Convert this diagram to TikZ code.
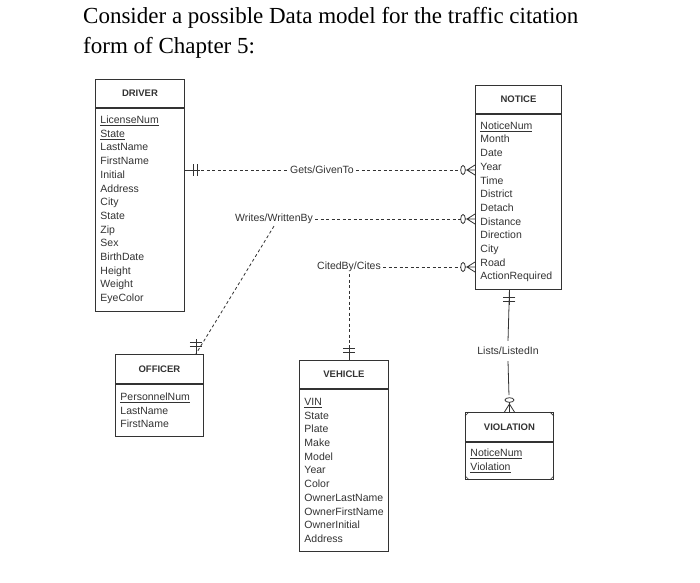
\documentclass[tikz,border=0pt]{standalone}
\usepackage{fontspec}
\setmainfont{Liberation Serif}
\newfontfamily\erfont{Liberation Sans}
\usetikzlibrary{positioning}

\definecolor{ink}{HTML}{333333}

\tikzset{
  ent/.style={draw=ink, line width=0.9pt, minimum width=#1, minimum height=28, inner sep=0pt,
    font=\erfont\bfseries\fontsize{9.5}{11}\selectfont, text=ink},
  attr/.style={draw=ink, line width=0.9pt, text width=#1, align=left, inner xsep=5pt, inner ysep=0pt,
    font=\erfont\fontsize{10.5}{13.7}\selectfont, text=ink},
  rel/.style={draw=ink, line width=0.8pt, dash pattern=on 3pt off 2.5pt},
  lbl/.style={font=\erfont\fontsize{10.5}{12}\selectfont, text=ink, inner sep=2pt},
  mustone/.pic={\draw[ink, line width=0.8pt] (0,0) -- (15,0) (8,-6) -- (8,6) (12,-6) -- (12,6);},
  zeromany/.pic={\draw[ink, line width=0.8pt] (-12,0) ellipse [x radius=2.3pt, y radius=4.5pt]
    (-9.7,0) -- (0,0) (-8,0) -- (0,5) (-8,0) -- (0,-5);}
}

\begin{document}
\begin{tikzpicture}[x=1pt, y=-1pt]
\path[use as bounding box, fill=white] (0,0) rectangle (700,582);

\node[anchor=north west, align=left, inner sep=0pt, font=\fontsize{23}{30}\selectfont] (title) at (83,7)
  {Consider a possible Data model for the traffic citation\\form of Chapter 5:};

\node[ent=89, anchor=north west] (driver) at (95,79) {DRIVER};
\node[attr=79, minimum height=203, below=0pt of driver] (driverA)
  {\underline{LicenseNum}\\\underline{State}\\LastName\\FirstName\\Initial\\Address\\City\\State\\Zip\\Sex\\BirthDate\\Height\\Weight\\EyeColor};

\node[ent=86, anchor=north west] (notice) at (475,85) {NOTICE};
\node[attr=76, minimum height=175, below=0pt of notice] (noticeA)
  {\underline{NoticeNum}\\Month\\Date\\Year\\Time\\District\\Detach\\Distance\\Direction\\City\\Road\\ActionRequired};

\node[ent=88, minimum height=29, anchor=north west] (officer) at (115,354) {OFFICER};
\node[attr=78, minimum height=52, below=0pt of officer] (officerA)
  {\underline{PersonnelNum}\\LastName\\FirstName};

\node[ent=89, anchor=north west] (vehicle) at (299,360) {VEHICLE};
\node[attr=79, minimum height=162, below=0pt of vehicle] (vehicleA)
  {\underline{VIN}\\State\\Plate\\Make\\Model\\Year\\Color\\OwnerLastName\\OwnerFirstName\\OwnerInitial\\Address};

\node[ent=88, minimum height=29, anchor=north west] (violation) at (465,412) {VIOLATION};
\node[attr=78, minimum height=37, below=0pt of violation] (violationA)
  {\underline{NoticeNum}\\\underline{Violation}};

\foreach \a/\dx/\dy in {violation.north west/4/-4, violation.north east/-4/-4, violationA.south west/4/4, violationA.south east/-4/4}
  \draw[ink, line width=0.6pt] ([xshift=\dx pt]\a) -- ([yshift=\dy pt]\a);

\node[lbl] (gets) at (322,170) {Gets/GivenTo};
\node[lbl] (writes) at (274,219) {Writes/WrittenBy};
\node[lbl] (cited) at (349,267) {CitedBy/Cites};
\node[lbl, inner ysep=6pt] (lists) at (508,351) {Lists/ListedIn};

\draw[rel] (driverA.east |- gets) -- (gets.west);
\draw[rel, shorten >=14.5pt] (gets.east) -- (noticeA.west |- gets);
\draw[rel, shorten >=14.5pt] (writes.east) -- (noticeA.west |- writes);
\draw[rel] (writes.south) -- ([xshift=-8pt]officer.north east);
\draw[rel, shorten >=14.5pt] (cited.east) -- (noticeA.west |- cited);
\draw[rel] (cited.south) -- (cited.south |- vehicle.north);
\draw[ink, line width=0.8pt] (violation.north |- noticeA.south) -- (lists.north);
\draw[ink, line width=0.8pt, shorten >=16.8pt] (lists.south) -- (violation.north);

\pic at (driverA.east |- gets) {mustone};
\pic at (noticeA.west |- gets) {zeromany};
\pic at (noticeA.west |- writes) {zeromany};
\pic at (noticeA.west |- cited) {zeromany};
\pic[rotate=90] at ([xshift=-8pt]officer.north east) {mustone};
\pic[rotate=90] at (cited.south |- vehicle.north) {mustone};
\pic[rotate=-90] at (violation.north |- noticeA.south) {mustone};
\pic[rotate=-90] at (violation.north) {zeromany};
\end{tikzpicture}
\end{document}
